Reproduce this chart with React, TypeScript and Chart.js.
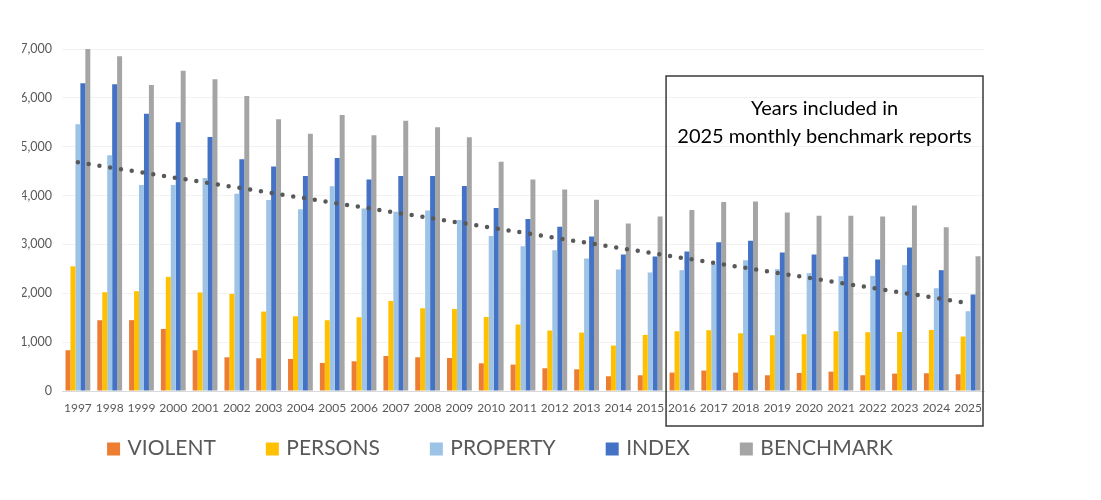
import React, { useEffect, useRef } from "react";
import { Chart, registerables } from "chart.js";

Chart.register(...registerables);

const years = [
  "1997", "1998", "1999", "2000", "2001", "2002", "2003", "2004", "2005", "2006",
  "2007", "2008", "2009", "2010", "2011", "2012", "2013", "2014", "2015", "2016",
  "2017", "2018", "2019", "2020", "2021", "2022", "2023", "2024", "2025",
];

const violent = [
  834, 1449, 1450, 1270, 834, 690, 670, 656, 574, 608,
  717, 690, 676, 567, 540, 465, 444, 301, 322, 377,
  418, 377, 322, 370, 397, 322, 356, 363, 342,
];

const persons = [
  2552, 2022, 2043, 2336, 2016, 1988, 1626, 1530, 1449, 1510,
  1844, 1694, 1680, 1517, 1360, 1237, 1196, 930, 1148, 1223,
  1244, 1182, 1141, 1162, 1223, 1203, 1209, 1250, 1115,
];

const property = [
  5458, 4823, 4215, 4215, 4358, 4037, 3907, 3722, 4190, 3737,
  3668, 3696, 3498, 3170, 2965, 2883, 2712, 2487, 2426, 2473,
  2596, 2678, 2494, 2412, 2350, 2357, 2576, 2104, 1633,
];

const indexTotals = [
  6298, 6278, 5676, 5499, 5198, 4741, 4597, 4399, 4768, 4331,
  4399, 4399, 4194, 3744, 3518, 3361, 3163, 2795, 2754, 2856,
  3047, 3074, 2836, 2795, 2746, 2692, 2938, 2473, 1975,
];

const benchmark = [
  7000, 6851, 6263, 6557, 6380, 6038, 5561, 5266, 5649, 5233,
  5533, 5397, 5192, 4693, 4331, 4126, 3914, 3430, 3573, 3703,
  3866, 3880, 3655, 3587, 3587, 3573, 3799, 3354, 2760,
];

// Linear trend: value at the first and the last year, joined by a straight line
const trendStart = 4680;
const trendEnd = 1800;

const yTicks = [0, 1000, 2000, 3000, 4000, 5000, 6000, 7000];

const boxFirstYear = "2016";
const boxLines = ["Years included in", "2025 monthly benchmark reports"];

const FONT = "Lato, 'Open Sans', sans-serif";
const TEXT_GREY = "#595959";

// Frame with caption around the years used by the monthly reports
const benchmarkBox = {
  id: "benchmarkBox",
  afterDraw(chart: any) {
    const { ctx, chartArea, scales } = chart;
    const x = scales.x;
    const i = years.indexOf(boxFirstYear);
    const left = (x.getPixelForValue(i - 1) + x.getPixelForValue(i)) / 2;
    const right = chartArea.right - 1;
    const top = 76;
    const bottom = chartArea.bottom + 35;
    ctx.save();
    ctx.strokeStyle = "#3a3a3a";
    ctx.lineWidth = 1.5;
    ctx.strokeRect(left, top, right - left, bottom - top);
    ctx.fillStyle = "#000000";
    ctx.font = `20px ${FONT}`;
    ctx.textAlign = "center";
    ctx.textBaseline = "middle";
    const cx = (left + right) / 2;
    ctx.fillText(boxLines[0], cx, top + 33);
    ctx.fillText(boxLines[1], cx, top + 61);
    ctx.restore();
  },
};

// Single-row legend under the axis: square swatch, label, wide gap between items
const bottomLegend = {
  id: "bottomLegend",
  afterDraw(chart: any) {
    const { ctx } = chart;
    const items = chart.data.datasets
      .filter((d: any) => d.type === "bar")
      .map((d: any) => ({ text: d.label, color: d.backgroundColor }));
    const box = 13;
    const boxGap = 7.5;
    const itemGap = 50;
    const centerX = 500;
    const centerY = 448;
    ctx.save();
    ctx.font = `21px ${FONT}`;
    const widths = items.map((it: any) => box + boxGap + ctx.measureText(it.text).width);
    const total = widths.reduce((a: number, b: number) => a + b, 0) + itemGap * (items.length - 1);
    let cx = centerX - total / 2;
    ctx.textBaseline = "middle";
    ctx.textAlign = "left";
    items.forEach((it: any, k: number) => {
      ctx.fillStyle = it.color;
      ctx.fillRect(cx, centerY - box / 2 + 1, box, box);
      ctx.fillStyle = TEXT_GREY;
      ctx.fillText(it.text, cx + box + boxGap, centerY);
      cx += widths[k] + itemGap;
    });
    ctx.restore();
  },
};

export default function App() {
  const canvasRef = useRef<HTMLCanvasElement | null>(null);

  useEffect(() => {
    if (!canvasRef.current) return;
    const trend = years.map((_, i) =>
      i === 0 ? trendStart : i === years.length - 1 ? trendEnd : null
    );
    const bar = (label: string, data: number[], color: string) => ({
      type: "bar" as const,
      label,
      data,
      backgroundColor: color,
      borderWidth: 0,
      order: 1,
    });
    const chart = new Chart(canvasRef.current, {
      type: "bar",
      data: {
        labels: years,
        datasets: [
          bar("VIOLENT", violent, "#ED7D31"),
          bar("PERSONS", persons, "#FFC000"),
          bar("PROPERTY", property, "#9DC3E6"),
          bar("INDEX", indexTotals, "#4472C4"),
          bar("BENCHMARK", benchmark, "#A5A5A5"),
          {
            type: "line" as const,
            label: "trend",
            data: trend as any,
            spanGaps: true,
            borderColor: "#595959",
            borderWidth: 4.5,
            borderDash: [0, 10.9],
            borderCapStyle: "round",
            pointRadius: 0,
            fill: false,
            order: 0,
          } as any,
        ],
      },
      options: {
        animation: false,
        responsive: true,
        maintainAspectRatio: false,
        datasets: {
          bar: { categoryPercentage: 0.78, barPercentage: 1.0 },
        },
        layout: { padding: { top: 49, left: 22, right: 117, bottom: 72 } },
        plugins: {
          tooltip: { enabled: false },
          legend: { display: false },
        },
        scales: {
          x: {
            grid: { display: false, drawTicks: false },
            border: { color: "#d9d9d9", width: 1 },
            ticks: {
              color: TEXT_GREY,
              padding: 10,
              maxRotation: 0,
              autoSkip: false,
              font: { family: FONT, size: 12 },
            },
            afterFit: (s: any) => {
              s.height = 37;
            },
          },
          y: {
            min: 0,
            max: 7000,
            afterBuildTicks: (s: any) => {
              s.ticks = yTicks.map((v) => ({ value: v }));
            },
            grid: { color: "#f2f2f2", drawTicks: false },
            border: { display: false },
            ticks: {
              color: TEXT_GREY,
              padding: 10,
              font: { family: FONT, size: 12.5 },
              callback: (v: any) => Number(v).toLocaleString("en-US"),
            },
            afterFit: (s: any) => {
              s.width = 40;
            },
          },
        },
      },
      plugins: [benchmarkBox, bottomLegend],
    });
    return () => chart.destroy();
  }, []);

  return (
    <div
      style={{
        position: "fixed",
        left: 0,
        top: 0,
        width: 1101,
        height: 500,
        background: "#ffffff",
      }}
    >
      <canvas ref={canvasRef} />
    </div>
  );
}
